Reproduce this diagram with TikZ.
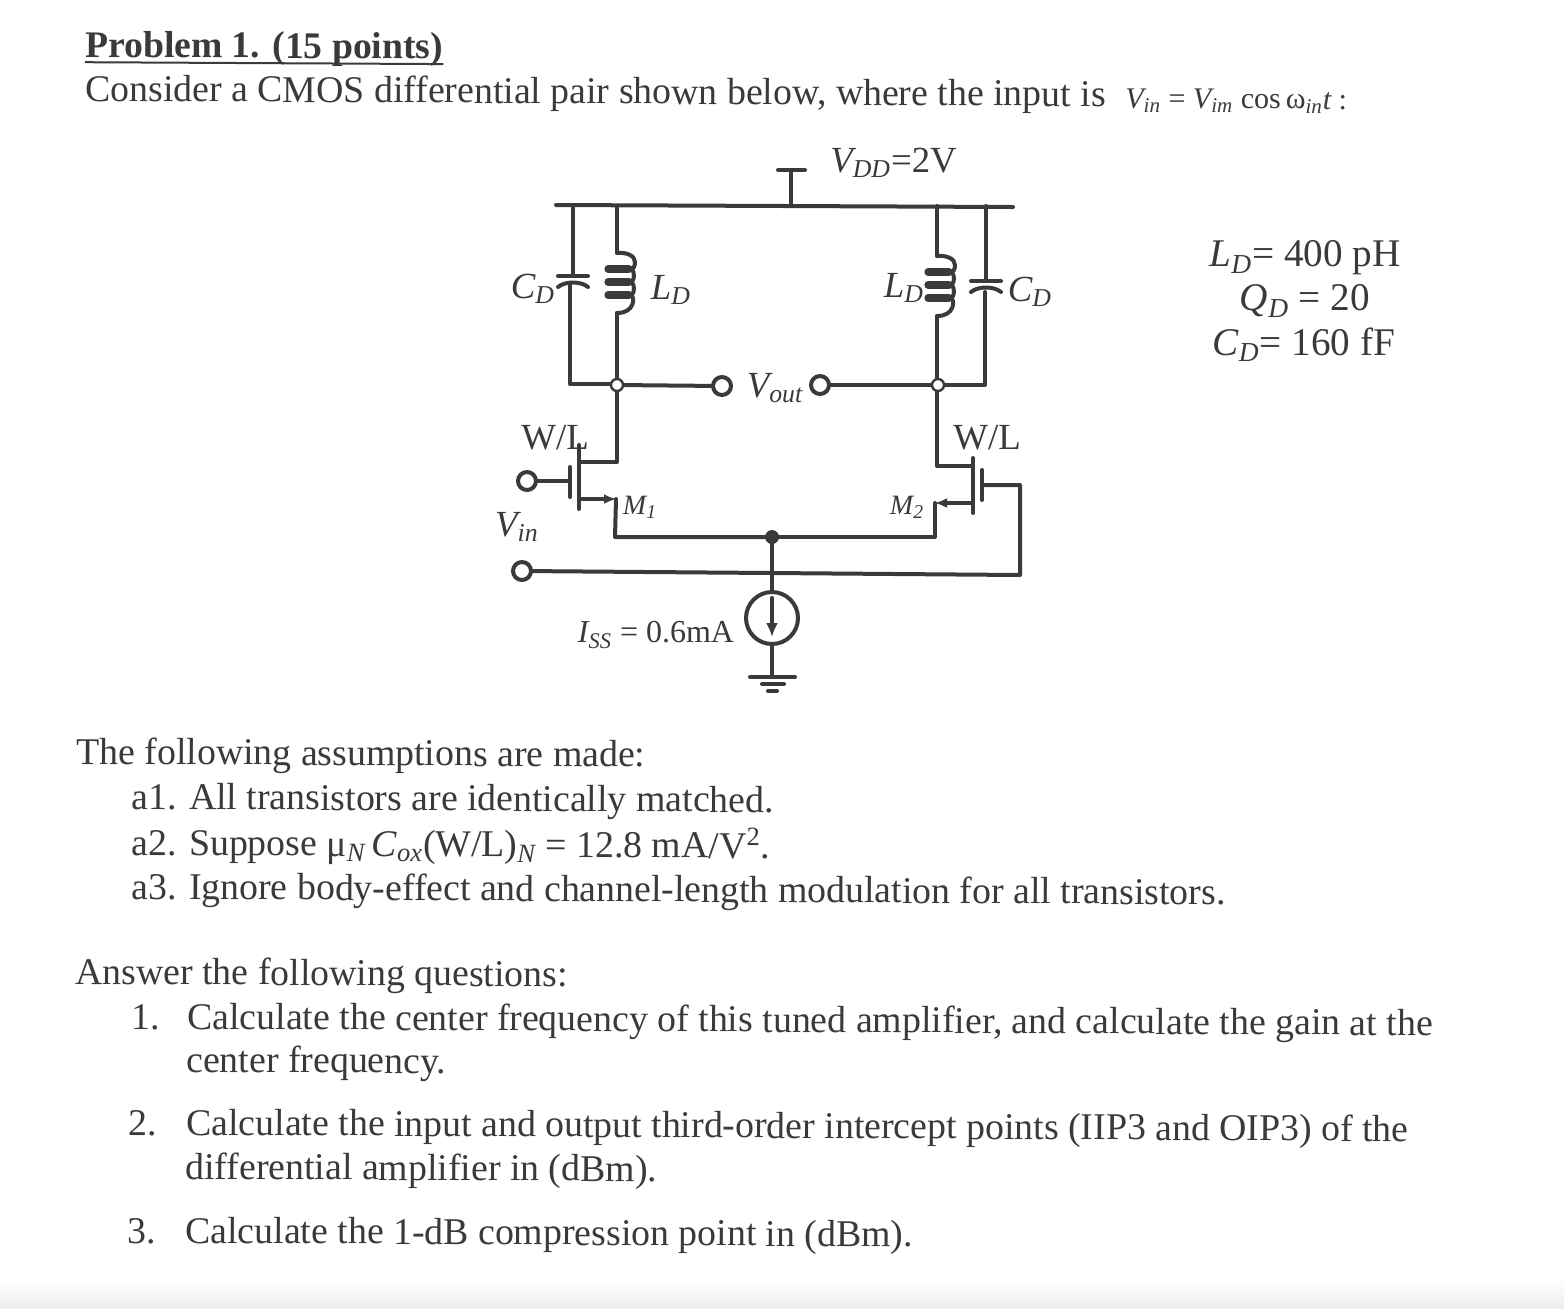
\documentclass[tikz,border=0pt]{standalone}
\usepackage{fontspec}
\usetikzlibrary{arrows.meta}
\setmainfont{Liberation Serif}
\definecolor{ink}{RGB}{58,58,58}
\tikzset{
  wire/.style={draw=ink,line width=2pt,line cap=round,line join=round},
  line/.style={anchor=base west,inner sep=0pt,rotate=-0.3,text=ink,font=\fontsize{18.9}{20}\selectfont},
  lab/.style={inner sep=0pt,text=ink,font=\fontsize{18.4}{20}\selectfont},
  term/.style={circle,draw=ink,line width=2pt,fill=white,minimum size=9pt,inner sep=0pt},
  jct/.style={circle,draw=ink,line width=1.2pt,fill=white,minimum size=6pt,inner sep=0pt},
  dotn/.style={circle,fill=ink,minimum size=7pt,inner sep=0pt},
  coil/.pic={
    \draw[wire] (0,0) .. controls (10,-1) and (18,3) .. (18,9) .. controls (18,14) and (16,16) .. (14,16)
      .. controls (18,17) and (18,28) .. (14,29) .. controls (18,30) and (18,41) .. (14,42)
      .. controls (18,44) and (18,60) .. (0,60);
    \draw[draw=ink,line width=3.6pt,line cap=round] (-9,16) -- (12,16) (-9,29) -- (12,29) (-9,42) -- (12,42);
  },
  capplates/.pic={
    \draw[wire] (-15,0) -- (15,0);
    \draw[wire] (-15,11) .. controls (-8,5) and (8,5) .. (15,11);
  }
}
\begin{document}
\begin{tikzpicture}[x=0.5pt,y=-0.5pt]
\useasboundingbox (0,0) rectangle (1564,1308);
\fill[white] (0,0) rectangle (1564,1308);
\shade[top color=white,bottom color=black!7] (0,1280) rectangle (1564,1308);
\node[line,font=\fontsize{18.8}{20}\selectfont\bfseries] (title) at (85,57) {Problem 1. (15 points)};
\draw[draw=ink,line width=1pt] ([yshift=-2.6pt]title.base west) -- ([yshift=-2.6pt]title.base east);
\node[line] (intro) at (85,101) {Consider a CMOS differential pair shown below, where the input is};
\node[line,font=\fontsize{15}{16}\selectfont] (input) at (1125,108) {\itshape V\textsubscript{in}\upshape{} = \itshape V\textsubscript{im}\upshape{} cos\,ω\textsubscript{\itshape in}\itshape t\upshape{} :};
\node[lab,anchor=base west] (vddlab) at (830,172) {\itshape V\textsubscript{DD}\upshape =2V};
\node[lab,font=\fontsize{19.6}{20}\selectfont] (ldval) at (1305,258) {\itshape L\textsubscript{D}\upshape = 400 pH};
\node[lab,font=\fontsize{19.6}{20}\selectfont] (qdval) at (1305,301) {\itshape Q\textsubscript{D}\upshape{} = 20};
\node[lab,font=\fontsize{19.6}{20}\selectfont] (cdval) at (1304,345) {\itshape C\textsubscript{D}\upshape = 160 fF};
\node[lab] (cdl) at (533,289) {\itshape C\textsubscript{D}};
\node[lab] (ldl) at (671,290) {\itshape L\textsubscript{D}};
\node[lab] (ldr) at (904,288) {\itshape L\textsubscript{D}};
\node[lab] (cdr) at (1030,292) {\itshape C\textsubscript{D}};
\node[lab] (vout) at (775,388) {\itshape V\textsubscript{out}};
\node[lab] (wll) at (555,438) {W/L};
\node[lab] (wlr) at (987,438) {W/L};
\node[lab,font=\fontsize{14}{16}\selectfont\itshape] (ml) at (640,507) {M\textsubscript{1}};
\node[lab,font=\fontsize{14}{16}\selectfont\itshape] (mr) at (907,507) {M\textsubscript{2}};
\node[lab] (vin) at (517,527) {\itshape V\textsubscript{in}};
\node[lab,font=\fontsize{16}{18}\selectfont] (iss) at (656,635) {\itshape I\textsubscript{SS}\upshape{} = 0.6mA};
\coordinate (railL) at (556,205);
\coordinate (railR) at (1013,207);
\coordinate (capLt) at (573,206);
\coordinate (capLb) at (573,276);
\coordinate (capLc) at (570,285);
\coordinate (capLd) at (570,384);
\coordinate (indLt) at (617,206);
\coordinate (indLa) at (617,253);
\coordinate (indLb) at (617,313);
\coordinate (indRt) at (937,206);
\coordinate (indRa) at (937,256);
\coordinate (indRb) at (937,316);
\coordinate (capRt) at (986,206);
\coordinate (capRb) at (986,281);
\coordinate (capRc) at (985,292);
\coordinate (capRd) at (985,385);
\coordinate (vddT) at (791,171);
\coordinate (vddB) at (791,206);
\coordinate (drnL) at (579,462);
\coordinate (srcL) at (579,499);
\coordinate (bendL) at (616,499);
\coordinate (drnR) at (973,466);
\coordinate (srcR) at (973,503);
\coordinate (bendR) at (935,503);
\coordinate (cornR) at (935,537);
\coordinate (cornL) at (615,537);
\coordinate (gateL) at (570,481);
\coordinate (gateR) at (982,485);
\coordinate (gateC) at (1020,485);
\coordinate (gndT) at (772,677);
\node[term] (inA) at (527,481) {};
\node[term] (inB) at (522,571) {};
\node[term] (outA) at (722,386) {};
\node[term] (outB) at (820,385) {};
\node[dotn] (tail) at (772,537) {};
\node[circle,draw=ink,line width=2pt,minimum size=26pt,inner sep=0pt] (src) at (772,618) {};
\draw[wire] (railL) -- (railR);
\draw[wire] (vddT) -- (vddB);
\draw[wire] (778,170) -- (805,170);
\draw[wire] (capLt) -- (capLb);
\pic at (capLb) {capplates};
\draw[wire] (capLc) -- (capLd) -- (indLb |- capLd);
\draw[wire] (indLt) -- (indLa);
\pic at (indLa) {coil};
\draw[wire] (indLb) -- (drnL -| indLb) -- (drnL);
\draw[wire] (indRt) -- (indRa);
\pic at (indRa) {coil};
\draw[wire] (indRb) -- (drnR -| indRb) -- (drnR);
\draw[wire] (capRt) -- (capRb);
\pic at (capRb) {capplates};
\draw[wire] (capRc) -- (capRd) -- (indRb |- capRd);
\node[jct] (nodeL) at (617,385) {};
\node[jct] (nodeR) at (938,385) {};
\draw[wire] (nodeL) -- (outA);
\draw[wire] (outB) -- (nodeR);
\draw[wire] (579,445) -- (579,509);
\draw[wire] (570,467) -- (570,497);
\draw[wire] (inA) -- (gateL);
\draw[wire,-{Latex[length=6pt,width=5pt]}] (srcL) -- (bendL);
\draw[wire] (bendL) -- (cornL) -- (tail);
\draw[wire] (tail) -- (cornR) -- (bendR);
\draw[wire,-{Latex[length=6pt,width=5pt]}] (srcR) -- (bendR);
\draw[wire] (973,458) -- (973,513);
\draw[wire] (982,470) -- (982,500);
\draw[wire] (gateR) -- (gateC) -- (1020,575) -- (inB);
\draw[wire] (tail) -- (src);
\draw[wire,-{Latex[length=7pt,width=6pt]}] (772,598) -- (772,637);
\draw[wire] (src) -- (gndT);
\draw[wire] (750,677) -- (795,677);
\draw[wire] (762,684) -- (784,684);
\draw[wire] (768,691) -- (777,691);
\node[line] (assume) at (76,764) {The following assumptions are made:};
\node[line] (aone) at (131,809) {a1. All transistors are identically matched.};
\node[line] (atwo) at (131,855) {a2. Suppose μ\textsubscript{\itshape N}\,\itshape C\textsubscript{ox}\upshape (W/L)\textsubscript{\itshape N}\upshape{} = 12.8 mA/V\textsuperscript{2}.};
\node[line] (athree) at (131,899) {a3. Ignore body-effect and channel-length modulation for all transistors.};
\node[line] (answer) at (75,984) {Answer the following questions:};
\node[line] (qone) at (131,1029) {1.};
\node[line] (qonea) at (187,1029) {Calculate the center frequency of this tuned amplifier, and calculate the gain at the};
\node[line] (qoneb) at (186,1072) {center frequency.};
\node[line] (qtwo) at (128,1135) {2.};
\node[line] (qtwoa) at (186,1135) {Calculate the input and output third-order intercept points (IIP3 and OIP3) of the};
\node[line] (qtwob) at (185,1179) {differential amplifier in (dBm).};
\node[line] (qthree) at (127,1243) {3.};
\node[line] (qthreea) at (185,1243) {Calculate the 1-dB compression point in (dBm).};
\end{tikzpicture}
\end{document}
